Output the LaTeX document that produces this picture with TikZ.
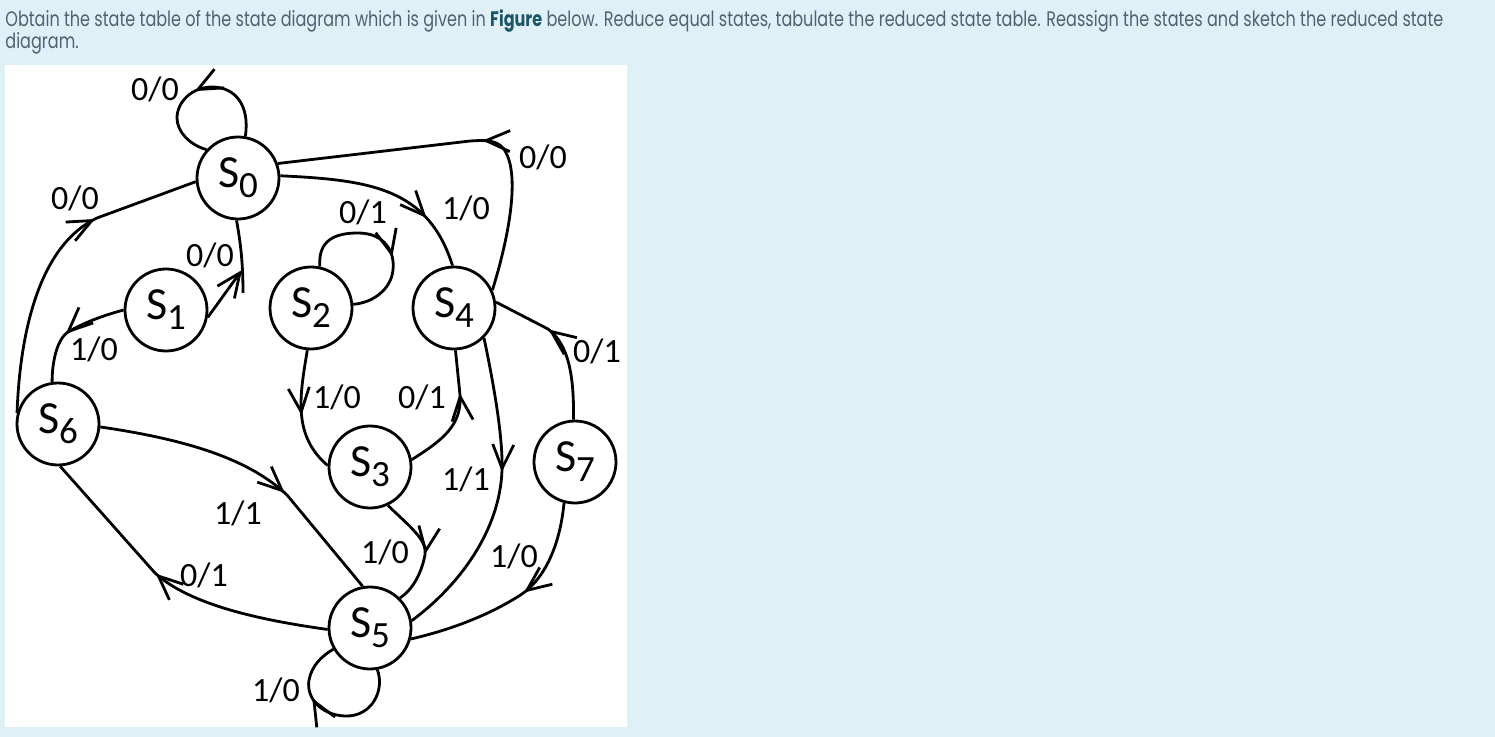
\documentclass[tikz,border=0pt]{standalone}
\usepackage{fontspec}
\setmainfont{Carlito}
\newfontfamily\qfont{Poppins}
\usetikzlibrary{arrows.meta,decorations.markings}
\definecolor{bgblue}{HTML}{DFF1F7}
\definecolor{qtext}{HTML}{4F6270}
\definecolor{qbold}{HTML}{1D5568}
\newlength\qw
\newcommand\qtxt{Obtain the state table of the state diagram which is given in {\bfseries\color{qbold}Figure} below. Reduce equal states, tabulate the reduced state table. Reassign the states and sketch the reduced state}
\newcommand\stlab[1]{S\raisebox{-5pt}{\fontsize{18.5}{18.5}\selectfont #1}}
\tikzset{
  stnode/.style={circle,draw,line width=1.4pt,minimum size=41pt,inner sep=0pt,font=\fontsize{23}{23}\selectfont},
  lab/.style={inner sep=0pt,font=\fontsize{17}{17}\selectfont},
  tr/.style={line width=1.4pt},
  arr/.style={postaction={decorate},decoration={markings,mark=at position #1 with {\arrow{Straight Barb[length=12pt,width=10.5pt]}}}},
  endarr/.style={-{Straight Barb[length=12pt,width=10.5pt]}}
}
\begin{document}
\settowidth\qw{\qfont\fontsize{10.5pt}{12pt}\selectfont\qtxt}%
\pgfmathsetmacro\qs{719/\qw}%
\begin{tikzpicture}[x=0.5pt,y=-0.5pt]
\fill[bgblue] (0,0) rectangle (1495,737);
\useasboundingbox (0,0) rectangle (1495,737);
\fill[white] (5,65) rectangle (627,727);
\node[anchor=base west,inner sep=0pt,text=qtext] (q1) at (5,27) {\scalebox{\qs}[1]{\qfont\fontsize{10.5pt}{12pt}\selectfont\qtxt}};
\node[anchor=base west,inner sep=0pt,text=qtext] (q2) at (5,49) {\scalebox{\qs}[1]{\qfont\fontsize{10.5pt}{12pt}\selectfont diagram.}};

\node[stnode] (S0) at (238,178) {\stlab{0}};
\node[stnode] (S1) at (166,310) {\stlab{1}};
\node[stnode] (S2) at (311,308) {\stlab{2}};
\node[stnode] (S4) at (454,308) {\stlab{4}};
\node[stnode] (S6) at (58,424) {\stlab{6}};
\node[stnode] (S3) at (370,467) {\stlab{3}};
\node[stnode] (S7) at (575,462) {\stlab{7}};
\node[stnode] (S5) at (370,628) {\stlab{5}};

% S0 loop
\draw[tr,arr=0.52] (S0.80) .. controls (250,105) and (235,87) .. (212,87) .. controls (192,87) and (177,102) .. (177,118) .. controls (177,132) and (190,145) .. (S0.138);
% S0 -> S4
\draw[tr,arr=0.74] (S0.3) .. controls (370,180) and (428,188) .. (S4.92);
% S4 -> S0
\draw[tr,arr=0.45] (S4.25) .. controls (508,240) and (522,172) .. (503,148) .. controls (496,140) and (485,140) .. (470,141) -- (S0.20);
% S2 loop
\draw[tr,arr=0.6] (S2.78) .. controls (318,240) and (335,233) .. (358,233) .. controls (385,233) and (395,252) .. (393,270) .. controls (391,290) and (372,303) .. (S2.5);
% S2 -> S3
\draw[tr,arr=0.53] (S2.265) .. controls (300,395) and (292,435) .. (S3.178);
% S3 -> S4
\draw[tr,arr=0.67] (S3.10) .. controls (443,440) and (462,425) .. (460,395) -- (S4.272);
% S4 -> S5
\draw[tr,arr=0.43] (S4.315) .. controls (495,390) and (503,440) .. (502,470) .. controls (500,530) and (460,585) .. (S5.10);
% S7 -> S4
\draw[tr,arr=0.62] (S7.92) .. controls (574,380) and (570,345) .. (548,329) -- (S4.8);
% S7 -> S5
\draw[tr,arr=0.45] (S7.255) .. controls (560,545) and (545,578) .. (522,594) .. controls (490,615) and (450,630) .. (S5.345);
% S3 -> S5
\draw[tr,arr=0.55] (S3.295) .. controls (408,525) and (428,540) .. (425,555) .. controls (421,575) and (412,590) .. (S5.45);
% S5 loop
\draw[tr,arr=0.64] (S5.280) .. controls (385,690) and (372,717) .. (345,716) .. controls (320,715) and (306,697) .. (309,680) .. controls (312,665) and (322,656) .. (S5.210);
% S6 -> S0
\draw[tr,arr=0.67] (S6.165) .. controls (20,330) and (40,245) .. (97,218) -- (S0.185);
% S1 -> S6
\draw[tr,arr=0.55] (S1.180) .. controls (105,315) and (85,322) .. (68,332) .. controls (56,340) and (52,365) .. (S6.98);
% S1 -> S0
\coordinate (j1) at (242,270);
\coordinate (j2) at (243,293);
\draw[tr,endarr] (S1.350) -- (j1);
\draw[tr] (S0.268) .. controls (241,245) and (243,265) .. (j2);
% S6 -> S5
\draw[tr,arr=0.62] (S6.356) .. controls (190,440) and (250,460) .. (287,495) -- (S5.100);
% S5 -> S6
\draw[tr,arr=0.56] (S5.182) .. controls (260,620) and (190,605) .. (155,573) -- (S6.273);

% labels
\node[lab] (l1) at (155,89) {0/0};
\node[lab] (l2) at (75,198) {0/0};
\node[lab] (l3) at (210,255) {0/0};
\node[lab] (l4) at (94,349) {1/0};
\node[lab] (l5) at (363,212) {0/1};
\node[lab] (l6) at (466,208) {1/0};
\node[lab] (l7) at (543,157) {0/0};
\node[lab] (l8) at (597,351) {0/1};
\node[lab] (l9) at (337,397) {1/0};
\node[lab] (l10) at (422,397) {0/1};
\node[lab] (l11) at (466,479) {1/1};
\node[lab] (l12) at (385,552) {1/0};
\node[lab] (l13) at (514,556) {1/0};
\node[lab] (l14) at (238,513) {1/1};
\node[lab] (l15) at (204,575) {0/1};
\node[lab] (l16) at (276,690) {1/0};
\end{tikzpicture}
\end{document}
